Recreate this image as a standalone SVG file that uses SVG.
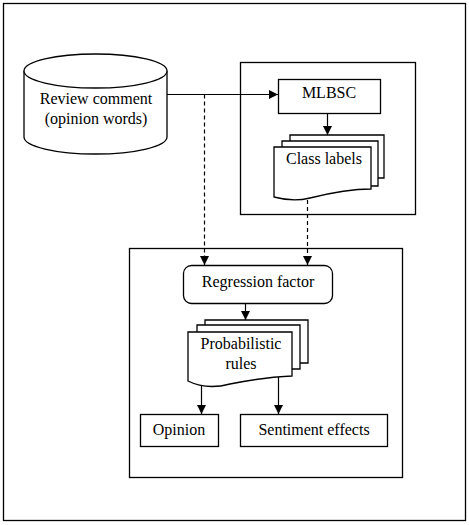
<svg xmlns="http://www.w3.org/2000/svg" width="469" height="525" viewBox="0 0 469 525" font-family="'Liberation Serif', 'Times New Roman', 'DejaVu Serif', serif">
<defs>
<style>
.s{fill:#fff;stroke:#000;stroke-width:1.3}
.o{fill:none;stroke:#000;stroke-width:1.3}
.c{fill:none;stroke:#000;stroke-width:1.2}
.d{stroke-dasharray:4,3}
.t{font-family:'Liberation Serif','Times New Roman','DejaVu Serif',serif;font-size:16px;fill:#000;text-anchor:middle}
</style>
<marker id="a" viewBox="0 0 10 10" refX="10" refY="5" markerWidth="9" markerHeight="9" markerUnits="userSpaceOnUse" orient="auto">
<path d="M0,0 L10,5 L0,10 Z" fill="#000"/>
</marker>
</defs>
<rect width="469" height="525" fill="#fff"/>
<rect id="frame" x="3.5" y="3.5" width="462" height="517" class="o" stroke-width="1.6"/>
<g id="group-top">
<rect x="240.5" y="62.5" width="175" height="152" class="o"/>
</g>
<g id="group-bottom">
<rect x="129.5" y="248.5" width="273" height="229" class="o"/>
</g>
<g id="review">
<path d="M24,71 V137 A71.5,17 0 0 0 167,137 V71" class="s"/>
<ellipse cx="95.5" cy="71" rx="71.5" ry="17" class="s"/>
<text class="t" x="96" y="104">Review comment</text>
<text class="t" x="96" y="124">(opinion words)</text>
</g>
<g id="mlbsc">
<rect x="278.5" y="79.5" width="102" height="34" class="s"/>
<text class="t" x="329" y="98">MLBSC</text>
</g>
<g id="classlabels">
<path d="M290,141 V135 H384 V178 H378" class="s"/>
<path d="M282,147 V141 H378 V186 H371" class="s"/>
<path d="M274,147 H371 V189 C350,189 330,193 310,198 C298,201 285,200 274,197 Z" class="s"/>
<text class="t" x="324" y="164">Class labels</text>
</g>
<g id="regression">
<rect x="183.5" y="265.5" width="149" height="38" rx="8" class="s"/>
<text class="t" x="258" y="287">Regression factor</text>
</g>
<g id="probrules">
<path d="M205,325 V320 H308 V363 H300" class="s"/>
<path d="M197,332 V325 H300 V369 H292" class="s"/>
<path d="M188,332 H292 V376 C268,377 250,380 230,384 C215,388 200,387 188,381 Z" class="s"/>
<text class="t" x="241" y="349">Probabilistic</text>
<text class="t" x="241" y="369">rules</text>
</g>
<g id="opinion">
<rect x="140.5" y="414.5" width="78" height="32" class="s"/>
<text class="t" x="179" y="435">Opinion</text>
</g>
<g id="sentiment">
<rect x="240.5" y="414.5" width="147" height="32" class="s"/>
<text class="t" x="314" y="435">Sentiment effects</text>
</g>
<g id="connectors">
<path d="M167,94.5 H278" class="c" marker-end="url(#a)"/>
<path d="M204.5,94.5 V265" class="c d" marker-end="url(#a)"/>
<path d="M327.5,113.5 V135" class="c" marker-end="url(#a)"/>
<path d="M307.5,200 V265" class="c d" marker-end="url(#a)"/>
<path d="M245.5,304 V320" class="c" marker-end="url(#a)"/>
<path d="M201.5,386 V414" class="c" marker-end="url(#a)"/>
<path d="M278.5,377 V414" class="c" marker-end="url(#a)"/>
</g>
</svg>
